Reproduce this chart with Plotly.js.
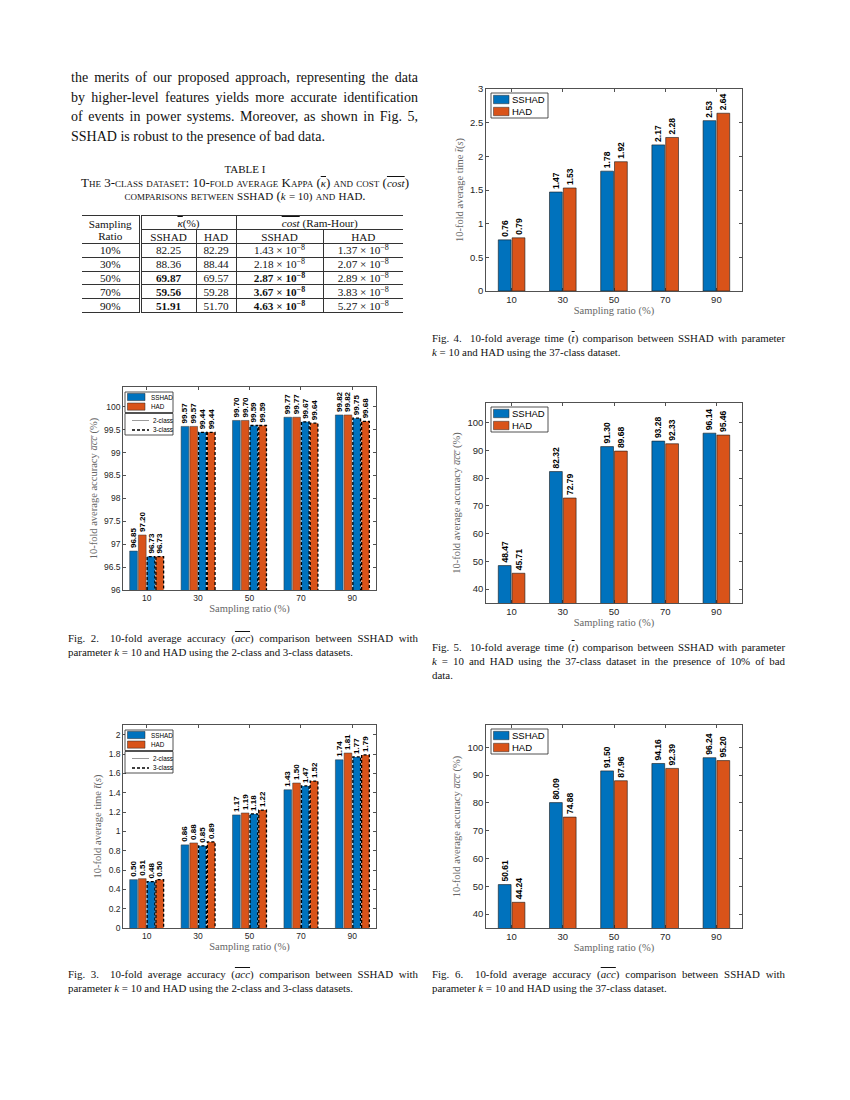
<!DOCTYPE html>
<html><head><meta charset="utf-8">
<script src="https://cdn.plot.ly/plotly-3.0.1.min.js"></script>
<style>
body{margin:0;background:#fff;}
#page{position:relative;width:850px;height:1100px;overflow:hidden;font-family:'Liberation Serif','Times New Roman',serif;color:#111;background:#fff;}
.ln{position:absolute;}
.j{text-align:justify;text-align-last:justify;}
.ov{text-decoration:overline;}
.chart{position:absolute;}
.sc{font-variant:small-caps;}
.nv{font-variant:normal;}
#tbl{position:absolute;left:82px;top:215px;width:321px;border-collapse:collapse;table-layout:fixed;font-size:11.2px;text-align:center;}
#tbl td{padding:0;height:13px;line-height:12px;border-top:1px solid #333;border-bottom:1px solid #333;white-space:nowrap;}
#tbl tr.b td{height:12.8px;}
#tbl td.c1{border-right:3px double #333;}
#tbl td.vr{border-right:1px solid #333;}
#tbl sup{font-size:8px;line-height:0;vertical-align:4px;}
</style>
</head><body>
<div id="page">
  <div id="texts"></div>
  <table id="tbl"></table>
  <div id="fig4" class="chart"></div>
  <div id="fig2" class="chart"></div>
  <div id="fig5" class="chart"></div>
  <div id="fig3" class="chart"></div>
  <div id="fig6" class="chart"></div>
</div>
<script>
// ---------------- DATA ----------------
const categories = ['10', '30', '50', '70', '90'];
const methodNames = ['SSHAD', 'HAD'];
const classNames = ['2-class', '3-class'];

// Fig. 4: average time (s), 37-class
const fig4SSHAD = [0.76, 1.47, 1.78, 2.17, 2.53];
const fig4HAD   = [0.79, 1.53, 1.92, 2.28, 2.64];

// Fig. 2: average accuracy (%), 2-class and 3-class
const fig2SSHAD2 = [96.85, 99.57, 99.70, 99.77, 99.82];
const fig2HAD2   = [97.20, 99.57, 99.70, 99.77, 99.82];
const fig2SSHAD3 = [96.73, 99.44, 99.59, 99.67, 99.75];
const fig2HAD3   = [96.73, 99.44, 99.59, 99.64, 99.68];

// Fig. 5: average accuracy (%), 37-class with bad data
const fig5SSHAD = [48.47, 82.32, 91.30, 93.28, 96.14];
const fig5HAD   = [45.71, 72.79, 89.68, 92.33, 95.46];

// Fig. 3: average time (s), 2-class and 3-class
const fig3SSHAD2 = [0.50, 0.86, 1.17, 1.43, 1.74];
const fig3HAD2   = [0.51, 0.88, 1.19, 1.50, 1.81];
const fig3SSHAD3 = [0.48, 0.85, 1.18, 1.47, 1.77];
const fig3HAD3   = [0.50, 0.89, 1.22, 1.52, 1.79];

// Fig. 6: average accuracy (%), 37-class
const fig6SSHAD = [50.61, 80.09, 91.50, 94.16, 96.24];
const fig6HAD   = [44.24, 74.88, 87.96, 92.39, 95.20];

// Table I
const tableRatios = ['10%', '30%', '50%', '70%', '90%'];
const kappaSSHAD = [82.25, 88.36, 69.87, 59.56, 51.91];
const kappaHAD   = [82.29, 88.44, 69.57, 59.28, 51.70];
const costSSHAD  = [1.43, 2.18, 2.87, 3.67, 4.63];   // x 10^-8
const costHAD    = [1.37, 2.07, 2.89, 3.83, 5.27];   // x 10^-8
const costExp = -8;

// ---------------- TEXT ----------------
const texts = [];
function addLine(x, yc, w, fs, lh, html, just, extra) {
  texts.push(`<div class="ln${just ? ' j' : ''}" style="left:${x}px;top:${yc - lh / 2}px;width:${w}px;font-size:${fs}px;line-height:${lh}px;${extra || ''}">${html}</div>`);
}
const bodyLines = [
  'the merits of our proposed approach, representing the data',
  'by higher-level features yields more accurate identification',
  'of events in power systems. Moreover, as shown in Fig. 5,',
  'SSHAD is robust to the presence of bad data.'
];
bodyLines.forEach((t, i) => addLine(71, 78 + i * 19.5, 347, 14, 19.5, t, i < 3));

addLine(45, 169.5, 400, 11, 11, 'TABLE I', false, 'text-align:center;');
addLine(45, 183, 400, 13, 12, '<span class="sc">The 3-class dataset: 10-fold average Kappa (<span class="nv ov" style="font-size:11px"><i>κ</i></span>) and cost (<span class="nv ov" style="font-size:11px"><i>cost</i></span>)</span>', false, 'text-align:center;');
addLine(45, 196, 400, 13, 12, '<span class="sc">comparisons between <span style="font-size:11px">SSHAD</span> (<i class="nv" style="font-size:11px">k</i> <span style="font-size:11px">= 10)</span> and <span style="font-size:11px">HAD</span>.</span>', false, 'text-align:center;');

const T = '<span class="ov"><i>t</i></span>';
const ACC = '<span class="ov"><i>acc</i></span>';
function caption(x, y0, w, lines) {
  lines.forEach((t, i) => addLine(x, y0 + i * 13.8, w, 10.9, 13.8, t, i < lines.length - 1));
}
caption(432, 339, 353, [
  `Fig. 4.&nbsp;&nbsp;10-fold average time (${T}) comparison between SSHAD with parameter`,
  '<i>k</i> = 10 and HAD using the 37-class dataset.'
]);
caption(68, 639, 350, [
  `Fig. 2.&nbsp;&nbsp;10-fold average accuracy (${ACC}) comparison between SSHAD with`,
  'parameter <i>k</i> = 10 and HAD using the 2-class and 3-class datasets.'
]);
caption(432, 648, 353, [
  `Fig. 5.&nbsp;&nbsp;10-fold average time (${T}) comparison between SSHAD with parameter`,
  '<i>k</i> = 10 and HAD using the 37-class dataset in the presence of 10% of bad',
  'data.'
]);
caption(68, 975, 350, [
  `Fig. 3.&nbsp;&nbsp;10-fold average accuracy (${ACC}) comparison between SSHAD with`,
  'parameter <i>k</i> = 10 and HAD using the 2-class and 3-class datasets.'
]);
caption(432, 975, 353, [
  `Fig. 6.&nbsp;&nbsp;10-fold average accuracy (${ACC}) comparison between SSHAD with`,
  'parameter <i>k</i> = 10 and HAD using the 37-class dataset.'
]);
document.getElementById('texts').innerHTML = texts.join('');

// ---------------- TABLE ----------------
(function () {
  const sci = (v, b) => b ? `<b>${v.toFixed(2)} × 10<sup>−${-costExp}</sup></b>` : `${v.toFixed(2)} × 10<sup>−${-costExp}</sup>`;
  let h = '<colgroup><col style="width:58px"><col style="width:56px"><col style="width:40px"><col style="width:87px"><col style="width:80px"></colgroup>';
  h += `<tr><td class="c1" rowspan="2" style="line-height:12px">Sampling<br>Ratio</td><td colspan="2" class="vr"><span class="ov"><i>κ</i></span>(%)</td><td colspan="2"><span class="ov"><i>cost</i></span> (Ram-Hour)</td></tr>`;
  h += '<tr><td class="vr">SSHAD</td><td class="vr">HAD</td><td class="vr">SSHAD</td><td>HAD</td></tr>';
  tableRatios.forEach((r, i) => {
    const bk = kappaSSHAD[i] > kappaHAD[i];
    const bc = costSSHAD[i] < costHAD[i];
    h += `<tr class="b"><td class="c1">${r}</td><td class="vr">${bk ? '<b>' + kappaSSHAD[i].toFixed(2) + '</b>' : kappaSSHAD[i].toFixed(2)}</td><td class="vr">${kappaHAD[i].toFixed(2)}</td><td class="vr">${sci(costSSHAD[i], bc)}</td><td>${sci(costHAD[i], false)}</td></tr>`;
  });
  document.getElementById('tbl').innerHTML = h;
})();

// ---------------- CHARTS ----------------
const FONT_SANS = 'Liberation Sans, Arial, Helvetica, sans-serif';
const FONT_SERIF = 'Liberation Serif, Times New Roman, serif';
const C_SSHAD = '#0072BD';
const C_HAD = '#D95319';
const methodColors = [C_SSHAD, C_HAD];
const AX = '#262626';
const Y_TIME = '10-fold average time <i>t̄</i>(<i>s</i>)';
const Y_ACC = '10-fold average accuracy <i>a̅c̅c̅</i> (%)';

function barTrace(vals, off, w, color, name, fs, edge) {
  return {
    type: 'bar', name: name, showlegend: false,
    x: vals.map((v, i) => i), y: vals, width: w, offset: off - w / 2,
    marker: { color: color, line: { color: '#1a1a1a', width: edge } },
    texttemplate: '<b>%{y:.2f}</b>', textposition: 'outside', textangle: -90,
    textfont: { family: FONT_SANS, size: fs, color: '#000' },
    constraintext: 'none', cliponaxis: false, hoverinfo: 'skip'
  };
}
function outlineTrace(series, w, base, dash, width, color, name) {
  const xs = [], ys = [];
  series.forEach(s => s.vals.forEach((v, i) => {
    const x0 = i + s.off - w / 2, x1 = i + s.off + w / 2;
    xs.push(x0, x0, x1, x1, null); ys.push(base, v, v, base, null);
  }));
  return { type: 'scatter', mode: 'lines', x: xs, y: ys, name: name, showlegend: false,
    line: { color: color, width: width, dash: dash }, hoverinfo: 'skip' };
}

// legend drawn inside the plot area (pixel geometry relative to plot top-left)
function legendParts(pw, ph, kind) {
  const X = p => p / pw, Y = p => 1 - p / ph;
  const shapes = [], ann = [];
  const rect = (x0, x1, y0, y1, fill, lw) => shapes.push({ type: 'rect', xref: 'paper', yref: 'paper', layer: 'above',
    x0: X(x0), x1: X(x1), y0: Y(y1), y1: Y(y0), fillcolor: fill, line: { color: AX, width: lw } });
  const txt = (x, y, t, fs) => ann.push({ xref: 'paper', yref: 'paper', x: X(x), y: Y(y), text: t, showarrow: false,
    xanchor: 'left', yanchor: 'middle', borderpad: 0, font: { family: FONT_SANS, size: fs, color: '#000' } });
  if (kind === 2) {
    rect(5, 62, 4, 29, '#fff', 0.8);
    methodNames.forEach((n, k) => {
      const yc = 10.5 + k * 12;
      rect(7.5, 23, yc - 4.2, yc + 4.2, methodColors[k], 0.5);
      txt(24.5, yc, n, 9.5);
    });
  } else {
    rect(2, 50, 5, 25.5, '#fff', 0.8);
    methodNames.forEach((n, k) => {
      const yc = 10 + k * 9.6;
      rect(4.5, 22, yc - 3.6, yc + 3.6, methodColors[k], 0.5);
      txt(26.5, yc, n, 6.3);
    });
    rect(2, 50, 26.5, 48, '#fff', 0.8);
    classNames.forEach((n, k) => {
      const yc = 33.5 + k * 9.5;
      shapes.push({ type: 'line', xref: 'paper', yref: 'paper', layer: 'above', x0: X(9), x1: X(26), y0: Y(yc), y1: Y(yc),
        line: k === 0 ? { color: '#555', width: 0.6 } : { color: '#000', width: 1.5, dash: '3px,2px' } });
      txt(28.5, yc, n, 6.3);
    });
  }
  return { shapes, ann };
}

function makeFig(id, rect, cfg) {
  const M = { l: 70, r: 20, t: 20, b: 45 };
  const pw = rect[1] - rect[0], ph = rect[3] - rect[2];
  const W = pw + M.l + M.r, H = ph + M.t + M.b;
  const el = document.getElementById(id);
  el.style.left = (rect[0] - M.l) + 'px'; el.style.top = (rect[2] - M.t) + 'px';
  el.style.width = W + 'px'; el.style.height = H + 'px';
  const axisCommon = {
    showline: true, linecolor: AX, linewidth: 0.8, mirror: 'ticks', ticks: 'inside', ticklen: 3,
    tickcolor: AX, tickwidth: 0.8, showgrid: false, zeroline: false, fixedrange: true
  };
  const lg = legendParts(pw, ph, cfg.kind);
  const layout = {
    width: W, height: H, margin: M, paper_bgcolor: 'rgba(0,0,0,0)', plot_bgcolor: '#fff',
    barmode: 'overlay', showlegend: false,
    xaxis: Object.assign({}, axisCommon, {
      range: cfg.xr, tickmode: 'array', tickvals: categories.map((c, i) => i), ticktext: categories,
      tickfont: { family: FONT_SANS, size: cfg.tfs, color: AX },
      title: { text: 'Sampling ratio (%)', font: { family: FONT_SERIF, size: 10.5, color: '#666' }, standoff: cfg.xso }
    }),
    yaxis: Object.assign({}, axisCommon, {
      range: cfg.yr, tickmode: 'array', tickvals: cfg.yt,
      tickfont: { family: FONT_SANS, size: cfg.tfs, color: AX },
      title: { text: cfg.ytitle, font: { family: FONT_SERIF, size: 10.5, color: '#666' }, standoff: cfg.yso }
    }),
    shapes: lg.shapes, annotations: lg.ann
  };
  Plotly.newPlot(el, cfg.traces, layout, { staticPlot: true, displayModeBar: false });
}

function twoSeries(s, h) {
  const w = 0.25;
  return [barTrace(s, -0.135, w, C_SSHAD, 'SSHAD', 8.5, 0.6), barTrace(h, 0.135, w, C_HAD, 'HAD', 8.5, 0.6)];
}
function fourSeries(s2, h2, s3, h3, base) {
  const w = 0.15, o = [-0.255, -0.085, 0.085, 0.255];
  return [
    barTrace(s2, o[0], w, C_SSHAD, 'SSHAD 2-class', 8, 0),
    barTrace(h2, o[1], w, C_HAD, 'HAD 2-class', 8, 0),
    barTrace(s3, o[2], w, C_SSHAD, 'SSHAD 3-class', 8, 0),
    barTrace(h3, o[3], w, C_HAD, 'HAD 3-class', 8, 0),
    outlineTrace([{ vals: s2, off: o[0] }, { vals: h2, off: o[1] }], w, base, 'solid', 0.5, '#333', '2-class'),
    outlineTrace([{ vals: s3, off: o[2] }, { vals: h3, off: o[3] }], w, base, '3px,2px', 1.3, '#000', '3-class')
  ];
}

makeFig('fig4', [486, 742, 89, 291], {
  kind: 2, traces: twoSeries(fig4SSHAD, fig4HAD), xr: [-0.5, 4.5], yr: [0, 3], yt: [0, 0.5, 1, 1.5, 2, 2.5, 3],
  ytitle: Y_TIME, tfs: 9.5, xso: 2, yso: 4
});
makeFig('fig5', [486, 742, 403, 603], {
  kind: 2, traces: twoSeries(fig5SSHAD, fig5HAD), xr: [-0.5, 4.5], yr: [35, 107], yt: [40, 50, 60, 70, 80, 90, 100],
  ytitle: Y_ACC, tfs: 9.5, xso: 2, yso: 4
});
makeFig('fig6', [486, 742, 725, 928], {
  kind: 2, traces: twoSeries(fig6SSHAD, fig6HAD), xr: [-0.5, 4.5], yr: [35, 108], yt: [40, 50, 60, 70, 80, 90, 100],
  ytitle: Y_ACC, tfs: 9.5, xso: 2, yso: 4
});
makeFig('fig2', [123, 376, 387, 590], {
  kind: 4, traces: fourSeries(fig2SSHAD2, fig2HAD2, fig2SSHAD3, fig2HAD3, 96), xr: [-0.46, 4.46], yr: [96, 100.43],
  yt: [96, 96.5, 97, 97.5, 98, 98.5, 99, 99.5, 100],
  ytitle: Y_ACC, tfs: 8.5, xso: 2, yso: 4
});
makeFig('fig3', [123, 376, 725, 928], {
  kind: 4, traces: fourSeries(fig3SSHAD2, fig3HAD2, fig3SSHAD3, fig3HAD3, 0), xr: [-0.46, 4.46], yr: [0, 2.1],
  yt: [0, 0.2, 0.4, 0.6, 0.8, 1, 1.2, 1.4, 1.6, 1.8, 2],
  ytitle: Y_TIME, tfs: 8.5, xso: 2, yso: 4
});
</script>
</body></html>
